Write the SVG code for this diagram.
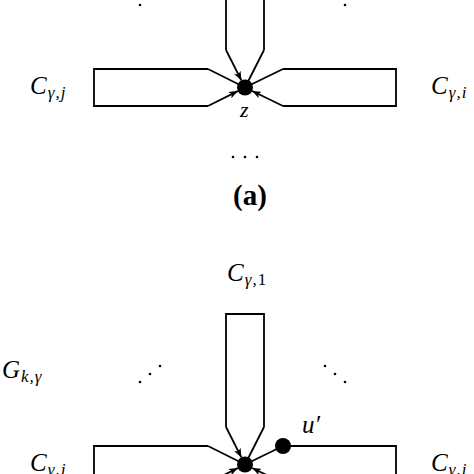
<svg xmlns="http://www.w3.org/2000/svg" width="474" height="474" viewBox="0 0 474 474">
<defs>
<style>
.ln{fill:none;stroke:#000;stroke-width:1.8;stroke-linejoin:miter}
.mi{font-family:"Liberation Serif","DejaVu Serif",serif;font-style:italic;font-size:25px;fill:#000}
.sub{font-size:17px;letter-spacing:1px}
.up{font-style:normal}
.bold{font-family:"Liberation Serif","DejaVu Serif",serif;font-weight:bold;font-size:29px;fill:#000}
.pt{fill:#000}
</style>
<marker id="ah" viewBox="0 0 10 8" refX="10" refY="4" markerWidth="5" markerHeight="4" orient="auto" markerUnits="strokeWidth">
<path d="M0,0 L10,4 L0,8 L2.5,4 Z" fill="#000"/>
</marker>
</defs>
<rect width="474" height="474" fill="#fff"/>

<!-- Panel (a) -->
<g id="panel-a">
  <g id="a-top-branch">
    <path class="ln" d="M226,-70 V50"/>
    <path class="ln" d="M264,-70 V50"/>
  </g>
  <g id="a-left-branch">
    <path class="ln" d="M208,69 H94 V106 H208"/>
    <text class="mi" x="30" y="94">C<tspan class="sub" dx="1" dy="4">γ,j</tspan></text>
  </g>
  <g id="a-right-branch">
    <path class="ln" d="M283,69 H396 V106 H283"/>
    <text class="mi" x="431" y="94">C<tspan class="sub" dx="1" dy="4">γ,i</tspan></text>
  </g>
  <g id="a-connectors">
    <path class="ln" d="M226,50 L241.4,80.4" marker-end="url(#ah)"/>
    <path class="ln" d="M264,50 L245,87.5"/>
    <path class="ln" d="M208,69 L245,87.5"/>
    <path class="ln" d="M208,106 L237.8,91.1" marker-end="url(#ah)"/>
    <path class="ln" d="M283,69 L245,87.5"/>
    <path class="ln" d="M283,106 L252.2,91" marker-end="url(#ah)"/>
  </g>
  <g id="a-z">
    <circle class="pt" cx="245" cy="87.5" r="8"/>
    <text class="mi" x="240" y="117" style="font-size:22px">z</text>
  </g>
  <g id="a-dots">
    <circle class="pt" cx="140" cy="5" r="1.3"/>
    <circle class="pt" cx="345" cy="5" r="1.3"/>
    <circle class="pt" cx="233" cy="157" r="1.3"/>
    <circle class="pt" cx="245" cy="157" r="1.3"/>
    <circle class="pt" cx="257" cy="157" r="1.3"/>
  </g>
  <text class="bold" x="250" y="205" text-anchor="middle">(a)</text>
</g>

<!-- Panel (b) -->
<g id="panel-b">
  <text class="mi" x="227" y="281">C<tspan class="sub" dx="1" dy="4">γ,<tspan class="up">1</tspan></tspan></text>
  <text class="mi" x="2" y="378">G<tspan class="sub" dx="1" dy="4">k,γ</tspan></text>
  <g id="b-top-branch">
    <path class="ln" d="M226,427 V314 H264 V427"/>
  </g>
  <g id="b-left-branch">
    <path class="ln" d="M208,446 H94 V483 H208"/>
    <text class="mi" x="30" y="471">C<tspan class="sub" dx="1" dy="4">γ,j</tspan></text>
  </g>
  <g id="b-right-branch">
    <path class="ln" d="M283,446 H396 V483 H283"/>
    <text class="mi" x="431" y="471">C<tspan class="sub" dx="1" dy="4">γ,i</tspan></text>
  </g>
  <g id="b-connectors">
    <path class="ln" d="M226,427 L241.4,457.4" marker-end="url(#ah)"/>
    <path class="ln" d="M264,427 L245,464.5"/>
    <path class="ln" d="M208,446 L245,464.5"/>
    <path class="ln" d="M208,483 L237.8,468.1" marker-end="url(#ah)"/>
    <path class="ln" d="M283,446 L245,464.5"/>
    <path class="ln" d="M283,483 L252.2,468" marker-end="url(#ah)"/>
  </g>
  <g id="b-z">
    <circle class="pt" cx="245" cy="464.5" r="8"/>
  </g>
  <g id="b-u">
    <circle class="pt" cx="283" cy="446" r="8"/>
    <text class="mi" x="302" y="433">u′</text>
  </g>
  <g id="b-dots">
    <circle class="pt" cx="140" cy="382" r="1.3"/>
    <circle class="pt" cx="150" cy="374" r="1.3"/>
    <circle class="pt" cx="160" cy="366" r="1.3"/>
    <circle class="pt" cx="325" cy="366" r="1.3"/>
    <circle class="pt" cx="335" cy="374" r="1.3"/>
    <circle class="pt" cx="345" cy="382" r="1.3"/>
  </g>
</g>
</svg>
